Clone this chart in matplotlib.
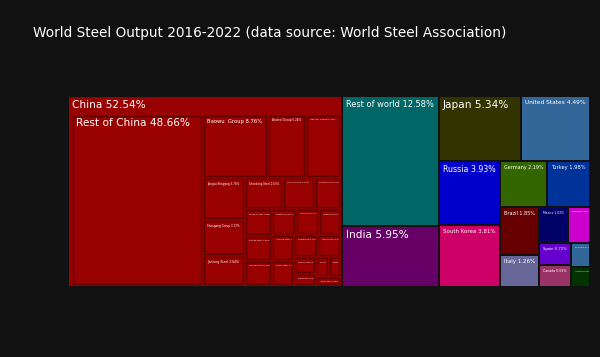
import matplotlib
matplotlib.use("Agg")
import matplotlib.pyplot as plt
from matplotlib.patches import Rectangle
from matplotlib.transforms import Bbox, TransformedBbox

# world steel output shares 2016-2022 (%)
countries = ["China", "Rest of world", "India", "Japan", "United States", "Russia",
             "South Korea", "Germany", "Turkey", "Brazil", "Italy", "Mexico",
             "Vietnam", "Spain", "Canada", "Poland", "Austria"]
shares = [52.54, 12.58, 5.95, 5.34, 4.49, 3.93, 3.81, 2.19, 1.98, 1.85, 1.26, 1.02,
          0.79, 0.72, 0.69, 0.47, 0.39]
colors = ["#990000", "#006666", "#660066", "#333300", "#336699", "#0000cc",
          "#cc0066", "#336600", "#003399", "#660000", "#666699", "#000066",
          "#cc00cc", "#6600cc", "#993366", "#336699", "#003300"]

# share of China's output by producer (%)
china_groups = ["Rest of China", "Baowu  Group", "Ansteel Group", "Hesteel Group",
                "Jiangsu Shagang", "Shougang Group", "Jianlong Steel", "Shandong Steel",
                "Valin Group", "Delong Steel", "Fangda Steel", "Rizhao Steel",
                "Liuzhou Steel", "Baotou Steel", "CITIC Pacific", "Jingye Steel",
                "Anyang Steel", "Benxi Steel", "Shenglong", "Jinxi Steel", "Zenith Steel",
                "Sanming Steel", "Xinyu Steel", "Nanjing Steel", "Tsingshan"]
china_shares = [48.66, 8.76, 5.24, 4.75, 3.78, 3.17, 2.64, 2.63, 2.16, 1.75, 1.55, 1.50,
                1.45, 1.30, 1.27, 1.22, 1.20, 1.17, 1.15, 1.12, 0.80, 0.55, 0.53, 0.50,
                0.48]

title = "World Steel Output 2016-2022 (data source: World Steel Association)"


def squarify(values, x0, y0, x1, y1, ratio=1.0):
    # same idea as d3 treemapSquarify
    rects = []
    value = float(sum(values))
    n = len(values)
    i0 = 0
    while i0 < n:
        dx, dy = x1 - x0, y1 - y0
        i1 = i0 + 1
        s = values[i0]
        mn = mx = s
        alpha = max(dy / dx, dx / dy) / (value * ratio)
        beta = s * s * alpha
        minr = max(mx / beta, beta / mn)
        while i1 < n:
            v = values[i1]
            s2 = s + v
            mn2, mx2 = min(mn, v), max(mx, v)
            beta = s2 * s2 * alpha
            nr = max(mx2 / beta, beta / mn2)
            if nr > minr:
                break
            s, mn, mx, minr = s2, mn2, mx2, nr
            i1 += 1
        if dx < dy:
            h = dy * s / value
            xx = x0
            for v in values[i0:i1]:
                w = dx * v / s
                rects.append((xx, y0, w, h))
                xx += w
            y0 += h
        else:
            w = dx * s / value
            yy = y0
            for v in values[i0:i1]:
                h = dy * v / s
                rects.append((x0, yy, w, h))
                yy += h
            x0 += w
        value -= s
        i0 = i1
    return rects


W, H = 522, 191
fig = plt.figure(figsize=(6, 3.57), dpi=100, facecolor="#111111")
ax = fig.add_axes([68 / 600, 1 - 287 / 357, W / 600, H / 357])
ax.set_xlim(0, W)
ax.set_ylim(H, 0)
ax.axis("off")
renderer = fig.canvas.get_renderer()


def add_label(x, y, w, h, text, maxfs=7.6, pad=3):
    t = ax.text(x + pad, y + pad, text, color="white", fontsize=maxfs,
                ha="left", va="top")
    tw = t.get_window_extent(renderer).width
    avail = w - 2 * pad
    if tw > avail:
        t.set_fontsize(max(maxfs * avail / tw, 1.5))
    t.set_clip_box(TransformedBbox(Bbox.from_extents(x, y, x + w, y + h), ax.transData))
    t.set_clip_on(True)


top = squarify(shares, 0, 0, W, H)
for (x, y, w, h), name, val, c in zip(top, countries, shares, colors):
    ax.add_patch(Rectangle((x + 1, y + 1), w - 2, h - 2, facecolor=c, edgecolor="none"))
    add_label(x + 1, y + 1, w - 2, h - 2, f"{name} {val:.2f}%")
    if name == "China":
        sub = squarify(china_shares, x + 3, y + 18, x + w - 2, y + h - 2)
        for (cx, cy, cw, ch), cname, cval in zip(sub, china_groups, china_shares):
            ax.add_patch(Rectangle((cx + 1.5, cy + 1.5), cw - 3, ch - 3, facecolor=c,
                                   edgecolor="#5e0000", linewidth=1))
            add_label(cx + 1.5, cy + 1.5, cw - 3, ch - 3, f"{cname} {cval:.2f}%")

fig.text(33 / 600, 1 - 33 / 357, title, color="white", fontsize=9.85,
         ha="left", va="center")

plt.savefig("out.png", dpi=100, facecolor="#111111")
